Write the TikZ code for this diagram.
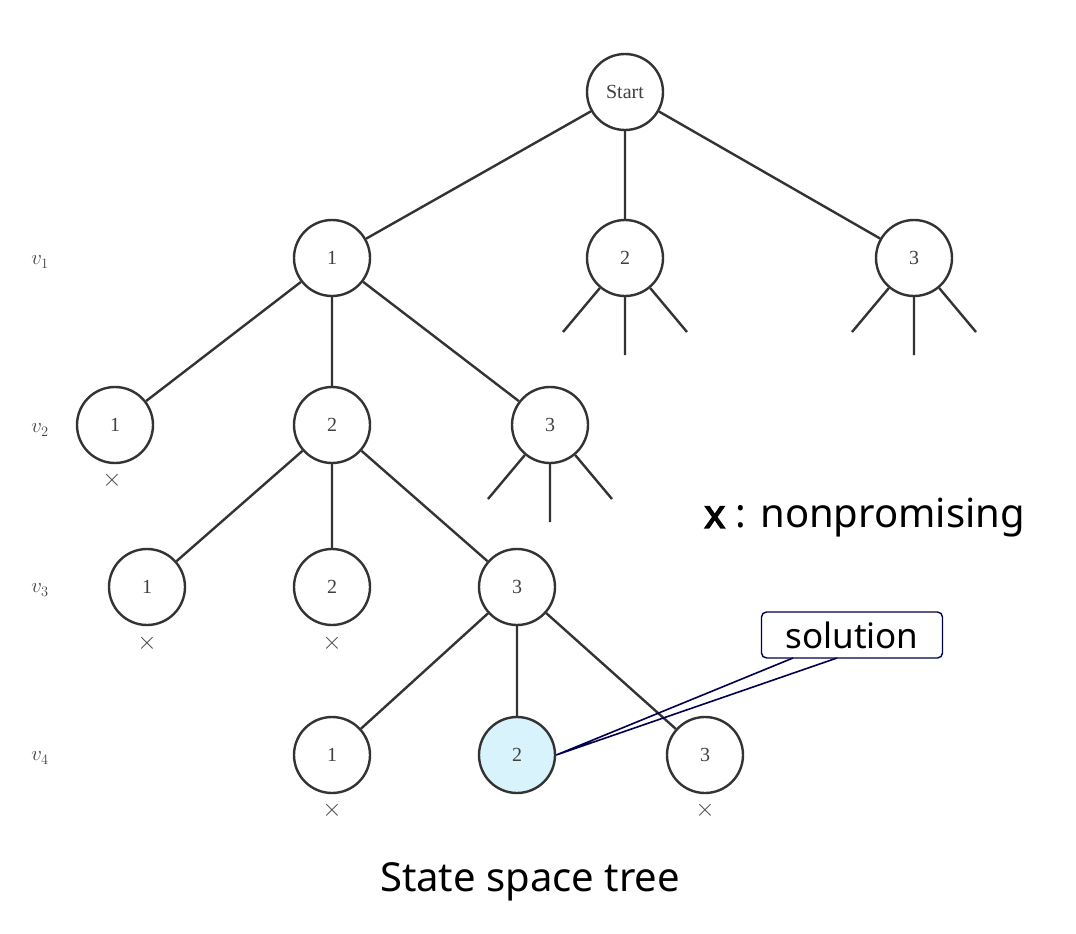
\documentclass[tikz,border=0pt]{standalone}
\usepackage{fontspec}
\usetikzlibrary{calc}
\setmainfont{Liberation Serif}
\newfontfamily\sans{Noto Sans}
\newfontfamily\sansbold{Noto Sans}[FakeBold=3]
\begin{document}
\begin{tikzpicture}[x=1pt,y=-1pt,
  st/.style={circle,draw=black!80,line width=2.4pt,minimum size=76pt,inner sep=0pt,font=\fontsize{20}{20}\selectfont,text=black!75},
  ed/.style={line width=2.4pt,draw=black!80},
  lv/.style={font=\fontsize{21}{21}\selectfont\itshape,text=black!75},
  cx/.style={font=\fontsize{30}{30}\selectfont,text=black!70}]
\useasboundingbox (0,0) rectangle (1076,934);
\node[st] (s) at (625,92) {Start};
\node[st] (a1) at (332,258) {1};
\node[st] (a2) at (625,258) {2};
\node[st] (a3) at (914,258) {3};
\node[st] (b1) at (115,425) {1};
\node[st] (b2) at (332,425) {2};
\node[st] (b3) at (550,425) {3};
\node[st] (c1) at (147,587) {1};
\node[st] (c2) at (332,587) {2};
\node[st] (c3) at (517,587) {3};
\node[st] (d1) at (332,755) {1};
\node[st,fill=cyan!15] (d2) at (517,755) {2};
\node[st] (d3) at (705,755) {3};
\draw[ed] (s)--(a1) (s)--(a2) (s)--(a3) (a1)--(b1) (a1)--(b2) (a1)--(b3)
  (b2)--(c1) (b2)--(c2) (b2)--(c3) (c3)--(d1) (c3)--(d2) (c3)--(d3);
\foreach \n in {a2,a3,b3}{
  \coordinate (\n l) at ($(\n.center)+(-62,74)$);
  \coordinate (\n m) at ($(\n.center)+(0,97)$);
  \coordinate (\n r) at ($(\n.center)+(62,74)$);
  \draw[ed] (\n)--(\n l) (\n)--(\n m) (\n)--(\n r);}
\node[lv] (l1) at (40,262) {$v_1$};
\node[lv] (l2) at (40,430) {$v_2$};
\node[lv] (l3) at (40,590) {$v_3$};
\node[lv] (l4) at (40,758) {$v_4$};
\foreach \x/\y/\n in {112/480/x1,147/643/x2,332/643/x3,332/810/x4,705/810/x5}
  \node[cx] (\n) at (\x,\y) {$\times$};
\node[font=\sans\fontsize{40}{40}\selectfont,anchor=west,inner sep=0pt] (leg) at (704,518) {{\sansbold x} : nonpromising};
\node[draw=blue!30!black,line width=1.4pt,rounded corners=5pt,minimum width=181pt,minimum height=46pt,font=\sans\fontsize{35}{35}\selectfont] (sol) at (852,635) {solution};
\coordinate (p1) at (793,658);
\coordinate (p2) at (837,658);
\draw[blue!30!black,line width=1.6pt] (p1)--(d2.east)--(p2);
\node[font=\sans\fontsize{40}{40}\selectfont] (t) at (530,882) {State space tree};
\end{tikzpicture}
\end{document}
